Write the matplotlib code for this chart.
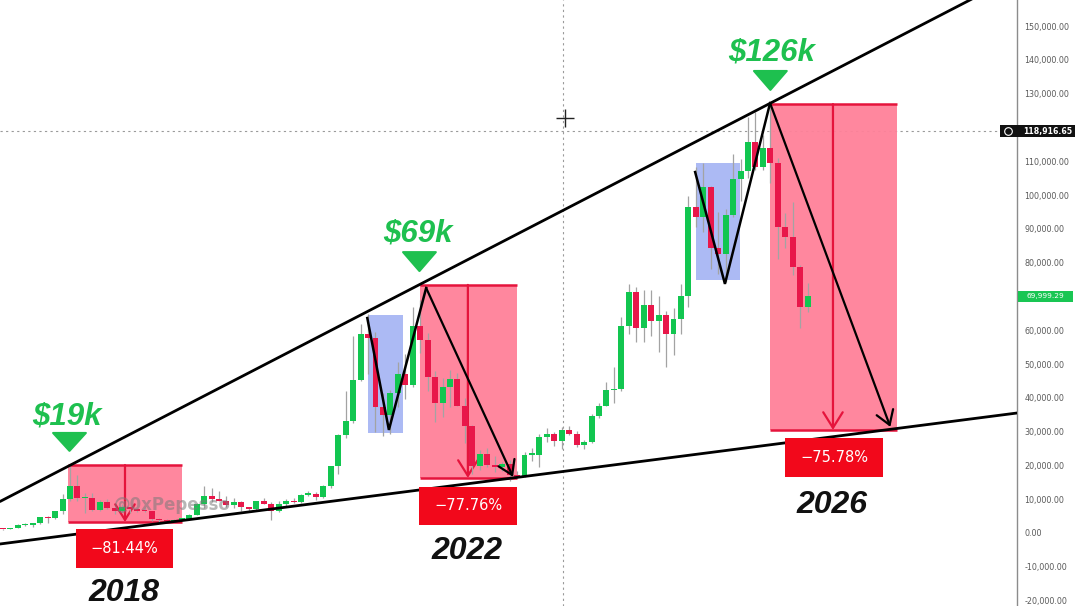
import matplotlib
matplotlib.use('Agg')
import matplotlib.pyplot as plt
import pandas as pd
from matplotlib.patches import Rectangle, Polygon
from matplotlib.transforms import blended_transform_factory

# ---------------- data (monthly BTC candles, Jan 2017 .. Mar 2026) ----------------
months = [str(p) for p in pd.period_range('2017-01', '2026-03', freq='M')]

opens = [963, 970, 1190, 1080, 1350, 2300, 2480, 2870, 4700, 4340, 6450, 10200,
         13860, 10220, 10330, 6930, 9240, 7490, 6390, 7730, 7030, 6630, 6370, 4040,
         3740, 3460, 3850, 4100, 5320, 8570, 10820, 10080, 9590, 8290, 9150, 7550,
         7190, 9350, 8540, 6410, 8620, 9450, 9140, 11350, 11650, 10780, 13800, 19700,
         28990, 33140, 45140, 58790, 57720, 37300, 35040, 41460, 47100, 43790, 61300, 57000,
         46300, 38480, 43190, 45530, 37640, 31800, 19930, 23300, 20050, 19430, 20490, 17170,
         16540, 23140, 23150, 28480, 29230, 27220, 30480, 29230, 25940, 26970, 34650, 37720,
         42270, 42580, 61130, 71330, 60640, 67490, 62680, 64620, 58970, 63330, 70220, 96450,
         93430, 102400, 84350, 82550, 94200, 104600, 107150, 115750, 108250, 114050, 109600, 90500,
         87600, 78700, 66900]
highs = [1190, 1200, 1290, 1350, 2760, 3000, 2990, 4750, 5000, 6470, 11400, 19800,
         17250, 11800, 11700, 9800, 10000, 7780, 8500, 7780, 7400, 7600, 6600, 4300,
         4100, 4200, 4130, 5640, 9000, 13880, 13200, 12300, 10900, 10500, 9500, 7750,
         9600, 10500, 9200, 9470, 10070, 10380, 11440, 12470, 12070, 14100, 19900, 29300,
         41950, 58350, 61780, 64850, 59600, 41300, 42400, 50500, 52900, 67000, 69000, 59100,
         48000, 45800, 48200, 47400, 40000, 31900, 24700, 25200, 22800, 21000, 21450, 18400,
         23950, 25250, 29200, 31000, 29850, 31390, 31800, 30200, 27480, 35200, 38420, 44700,
         48970, 64000, 73800, 72800, 71980, 71950, 70000, 65600, 66500, 73600, 99800, 108300,
         109600, 102800, 95000, 95800, 112000, 110600, 123200, 124500, 117900, 126200, 111000, 94700,
         98000, 79300, 74000]
lows = [751, 918, 890, 1060, 1340, 2100, 1840, 2680, 2970, 4100, 5500, 9500,
        9400, 6000, 6500, 6500, 7000, 5750, 6070, 5880, 6100, 6200, 3600, 3150,
        3350, 3380, 3700, 4100, 5300, 7450, 9100, 9320, 7800, 7300, 6500, 6430,
        6850, 8450, 3850, 6150, 8100, 8900, 8990, 10960, 9880, 10370, 13200, 17600,
        28130, 32400, 44960, 47050, 30000, 28800, 29300, 37300, 39600, 43300, 53300, 42000,
        32900, 34300, 37200, 37600, 26700, 17600, 18780, 19600, 18150, 18200, 15480, 16300,
        16500, 21400, 19550, 26950, 25800, 24800, 28860, 25300, 24900, 26550, 34100, 37600,
        38500, 41880, 59000, 56500, 56550, 58400, 53500, 49000, 52550, 58900, 66800, 90500,
        89200, 78200, 76600, 74400, 93400, 98200, 105100, 107300, 107300, 103500, 81000, 84300,
        76300, 60600, 65400]
closes = [970, 1190, 1080, 1350, 2300, 2480, 2870, 4700, 4340, 6450, 10200, 13860,
          10220, 10330, 6930, 9240, 7490, 6390, 7730, 7030, 6630, 6370, 4040, 3740,
          3460, 3850, 4100, 5320, 8570, 10820, 10080, 9590, 8290, 9150, 7550, 7190,
          9350, 8540, 6410, 8620, 9450, 9140, 11350, 11650, 10780, 13800, 19700, 28990,
          33140, 45140, 58790, 57720, 37300, 35040, 41460, 47100, 43790, 61300, 57000, 46300,
          38480, 43190, 45530, 37640, 31800, 19930, 23300, 20050, 19430, 20490, 17170, 16540,
          23140, 23150, 28480, 29230, 27220, 30480, 29230, 25940, 26970, 34650, 37720, 42270,
          42580, 61130, 71330, 60640, 67490, 62680, 64620, 58970, 63330, 70220, 96450, 93430,
          102400, 84350, 82550, 94200, 104600, 107150, 115750, 108250, 114050, 109600, 90500, 87600,
          78700, 66900, 70000]

# axis ticks (120k and 70k are hidden behind the price labels)
ytick_values = list(range(-20000, 150001, 10000))
hidden_ticks = [120000, 70000]
last_price = 69999.29
cursor_price = 118916.65

# annotation values (month index since Jan 2017, price)
peak_labels = ['$19k', '$69k', '$126k']
peak_label_t = [10.6, 57.7, 105.1]
peak_label_v = [34600, 88500, 142300]
tri_t = [10.93, 57.9, 105.0]
tri_top = [29600, 83100, 136700]
tri_tip = [24300, 77500, 131100]

drop_t0 = [10.73, 57.98, 104.96]
drop_t1 = [26.03, 71.0, 122.0]
drop_top = [20100, 73400, 126900]
drop_bot = [3250, 16300, 30500]
drop_mid = [18.38, 64.4, 113.4]
drop_pct = ['\u221281.44%', '\u221277.76%', '\u221275.78%']
pct_t0 = [11.8, 57.85, 106.97]
pct_t1 = [24.8, 71.0, 120.1]
pct_top = [1180, 13600, 28100]
pct_bot = [-10360, 2400, 16600]
year_labels = ['2018', '2022', '2026']
year_t = [18.25, 64.3, 113.3]
year_v = [-17700, -5300, 8300]

blue_t0 = [51.0, 95.0]
blue_t1 = [55.7, 100.9]
blue_top = [64500, 109500]
blue_bot = [29600, 74900]

zz_t = [[50.9, 53.8, 58.8], [94.9, 98.9, 104.96]]
zz_v = [[63600, 30500, 72500], [106800, 73700, 127200]]
zz_end_t = [70.46, 121.1]
zz_end_v = [16600, 31400]

upper_t = [1.604, 138.1]
upper_v = [9320, 164900]
lower_t = [1.604, 138.1]
lower_v = [-3250, 35500]

cross_t = 77.2
cursor_t, cursor_v = 77.4, 122800

# ---------------- styling ----------------
GREEN = '#12c650'
RED = '#e8174a'
WICK = '#a3a3a3'
TXT_GREEN = '#1ec04f'
BOX_FILL = '#ff8199'
BOX_EDGE = '#e5143c'
LABEL_RED = '#f2081b'
BLUE_FILL = '#a8b7f4'

W, H = 1080, 606
fig = plt.figure(figsize=(W / 100, H / 100), dpi=100)
fig.patch.set_facecolor('white')
ax = fig.add_axes([0, 0, 1017 / W, 1])
ax.set_xlim(1.604, 138.1)
ax.set_ylim(-21600, 157700)

for s in ['left', 'top', 'bottom']:
    ax.spines[s].set_visible(False)
ax.spines['right'].set_color('#8c8c8c')
ax.spines['right'].set_linewidth(1.0)
ax.set_xticks([])
ax.yaxis.tick_right()
ax.set_yticks(ytick_values)
ax.set_yticklabels(['' if v in hidden_ticks else f'{v:,.2f}' for v in ytick_values])
ax.tick_params(axis='y', length=0, pad=5.5, labelsize=5.8, labelcolor='#5a5a5a')

# crosshair
ax.axhline(cursor_price, color='#9a9a9a', lw=0.8, ls=(0, (2, 3)), zorder=0)
ax.axvline(cross_t, color='#9a9a9a', lw=0.8, ls=(0, (2, 3)), zorder=0)
ax.plot([cursor_t], [cursor_v], marker='+', ms=13, mew=1.0, color='#222222', zorder=8)

# red drop boxes
for t0, t1, top, bot, mid in zip(drop_t0, drop_t1, drop_top, drop_bot, drop_mid):
    ax.add_patch(Rectangle((t0, bot), t1 - t0, top - bot, facecolor=BOX_FILL,
                           edgecolor='none', alpha=0.95, zorder=1))
    ax.hlines([top, bot], t0, t1, colors=BOX_EDGE, lw=1.8, zorder=1.5)
    ax.annotate('', xy=(mid, bot), xytext=(mid, top),
                arrowprops=dict(arrowstyle='->,head_length=0.8,head_width=0.5',
                                color=BOX_EDGE, lw=1.6, shrinkA=0, shrinkB=0,
                                mutation_scale=14), zorder=1.6)

# blue boxes
for t0, t1, top, bot in zip(blue_t0, blue_t1, blue_top, blue_bot):
    ax.add_patch(Rectangle((t0, bot), t1 - t0, top - bot, facecolor=BLUE_FILL,
                           edgecolor='none', alpha=0.95, zorder=1))

# candles
t_idx = list(range(len(months)))
ax.vlines(t_idx, lows, highs, colors=WICK, lw=0.9, zorder=2)
bottoms = [min(o, c) for o, c in zip(opens, closes)]
heights = [max(abs(c - o), 450) for o, c in zip(opens, closes)]
colors = [GREEN if c >= o else RED for o, c in zip(opens, closes)]
ax.bar(t_idx, heights, bottom=bottoms, width=0.8, color=colors, zorder=3, linewidth=0)

# trend lines
ax.plot(upper_t, upper_v, color='black', lw=2.0, zorder=4, solid_capstyle='round')
ax.plot(lower_t, lower_v, color='black', lw=2.0, zorder=4, solid_capstyle='round')

# zigzags
for ts, vs, te, ve in zip(zz_t, zz_v, zz_end_t, zz_end_v):
    ax.plot(ts, vs, color='black', lw=1.8, zorder=5, solid_joinstyle='miter')
    ax.annotate('', xy=(te, ve), xytext=(ts[-1], vs[-1]),
                arrowprops=dict(arrowstyle='->,head_length=0.7,head_width=0.45',
                                color='black', lw=1.6, shrinkA=0, shrinkB=0,
                                mutation_scale=14), zorder=5)

# peak labels + triangles
for lab, lt, lv, tt, ttop, ttip in zip(peak_labels, peak_label_t, peak_label_v,
                                        tri_t, tri_top, tri_tip):
    ax.text(lt, lv, lab, color=TXT_GREEN, fontsize=22.5, fontweight='bold',
            fontstyle='italic', family='Liberation Sans', ha='center', va='center', zorder=7)
    ax.add_patch(Polygon([(tt - 2.2, ttop), (tt + 2.2, ttop), (tt, ttip)], closed=True,
                         facecolor=TXT_GREEN, edgecolor=TXT_GREEN, lw=1.5,
                         joinstyle='round', zorder=7))

# percentage labels and years
for txt, t0, t1, top, bot in zip(drop_pct, pct_t0, pct_t1, pct_top, pct_bot):
    ax.add_patch(Rectangle((t0, bot), t1 - t0, top - bot, facecolor=LABEL_RED,
                           edgecolor='none', zorder=6))
    ax.text((t0 + t1) / 2, (top + bot) / 2, txt, color='white', fontsize=10.5,
            ha='center', va='center', zorder=7)
for txt, yt, yv in zip(year_labels, year_t, year_v):
    ax.text(yt, yv, txt, color='#111111', fontsize=23, fontweight='bold',
            fontstyle='italic', family='Liberation Sans', ha='center', va='center',
            zorder=7)

# watermark
ax.text(24.7, 8300, '@0xPepesso', color='#7a7a7a', alpha=0.55, fontsize=12,
        fontweight='bold', ha='center', va='center', zorder=6)

# price labels on the right axis
btr = blended_transform_factory(ax.transAxes, ax.transData)
ax.add_patch(Rectangle((1000 / 1017, cursor_price - 1800), 75 / 1017, 3600,
                       transform=btr, facecolor='#111111', edgecolor='none',
                       clip_on=False, zorder=9))
ax.plot([1008 / 1017], [cursor_price], transform=btr, marker='o', ms=5.5, mfc='none',
        mec='white', mew=0.8, clip_on=False, zorder=10)
ax.text(1048 / 1017, cursor_price, f'{cursor_price:,.2f}', transform=btr, color='white',
        fontsize=5.6, fontweight='bold', ha='center', va='center', clip_on=False, zorder=10)
ax.add_patch(Rectangle((1018 / 1017, last_price - 1550), 55 / 1017, 3100,
                       transform=btr, facecolor='#19c653', edgecolor='none',
                       clip_on=False, zorder=9))
ax.text(1045 / 1017, last_price, f'{last_price:,.2f}', transform=btr, color='white',
        fontsize=5.3, ha='center', va='center', clip_on=False, zorder=10)

fig.savefig('out.png', dpi=100, facecolor='white')
